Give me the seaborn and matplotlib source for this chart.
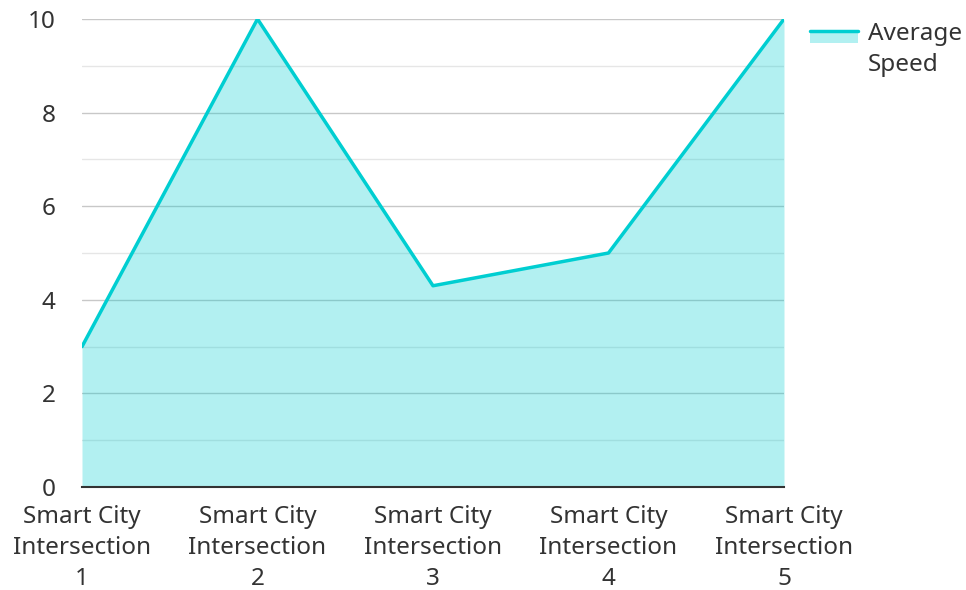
import matplotlib
matplotlib.use("Agg")
import matplotlib.pyplot as plt
import seaborn as sns
import pandas as pd
import numpy as np
from matplotlib.lines import Line2D
from matplotlib.patches import Rectangle

categories = ["Smart City\nIntersection\n1", "Smart City\nIntersection\n2", "Smart City\nIntersection\n3",
              "Smart City\nIntersection\n4", "Smart City\nIntersection\n5"]
speed = [3, 10, 4.3, 5, 10]
series_name = "Average\nSpeed"

sns.set_theme(style="white")
plt.rcParams['font.family'] = ['Noto Sans', 'DejaVu Sans']

W, H = 966, 590
line_color = "#00CED1"
fs = 17.5
df = pd.DataFrame({"x": np.arange(len(categories)), "y": speed})

fig = plt.figure(figsize=(W/100, H/100), dpi=100)
ax = fig.add_axes([82/W, 1-487/H, (784-82)/W, (487-19)/H])

for v in range(1, 10, 2):
    ax.axhline(v, color="#e6e6e6", lw=1, zorder=0)
for v in range(2, 11, 2):
    ax.axhline(v, color="#c8c8c8", lw=1, zorder=0)

ax.fill_between(df["x"], df["y"], 0, color=line_color, alpha=0.3, lw=0, zorder=1)
sns.lineplot(data=df, x="x", y="y", ax=ax, color=line_color, lw=2.5, zorder=3)

ax.set_xlim(0, len(categories)-1)
ax.set_ylim(0, 10)
ax.set_yticks(range(0, 11, 2))
ax.set_xticks(range(len(categories)))
ax.set_xticklabels(categories, fontsize=fs, color="#333333", linespacing=1.39)
ax.tick_params(axis='y', labelsize=fs, colors="#333333", length=0, pad=19)
ax.tick_params(axis='x', length=0, pad=13)
ax.set_xlabel("")
ax.set_ylabel("")
for s in ["top", "right", "left"]:
    ax.spines[s].set_visible(False)
ax.spines["bottom"].set_color("#333333")
ax.spines["bottom"].set_linewidth(1.5)

# legend
x0, x1, yl, yb = 810, 858, 31, 43
fig.patches.append(Rectangle((x0/W, 1-yb/H), (x1-x0)/W, (yb-yl)/H, transform=fig.transFigure,
                             facecolor=line_color, alpha=0.3, lw=0))
fig.lines.append(Line2D([x0/W, x1/W], [1-yl/H, 1-yl/H], transform=fig.transFigure,
                        color=line_color, lw=2.5))
fig.text(868/W, 1-22/H, series_name, fontsize=fs, color="#333333", va="top", ha="left",
         linespacing=1.41)

fig.savefig("out.png", dpi=100)
